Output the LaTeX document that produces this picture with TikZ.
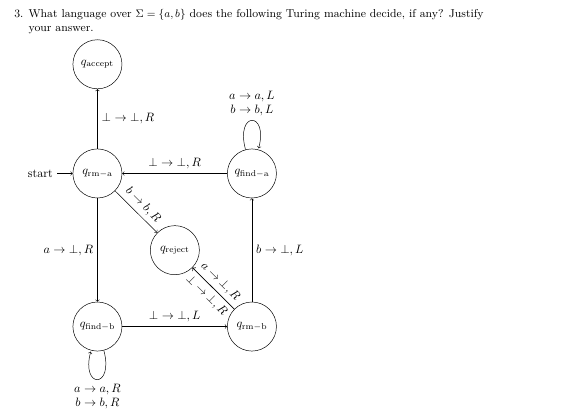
\documentclass[tikz,border=0pt]{standalone}
\usepackage{amsmath, amssymb}
\usetikzlibrary{arrows.meta}

\begin{document}
\begin{tikzpicture}[>=to]
\tikzset{tmstate/.style={circle,draw,minimum size=1.42cm,inner sep=0pt}}
\useasboundingbox (-2.82,-6.96) rectangle (13.56,5.02);
\node[anchor=base west] (task) at (-2.53,4.50) {\fontsize{9.4pt}{11.1pt}\selectfont\begin{tabular}[t]{@{}l@{ }l@{}}3. & What language over $\Sigma = \{a,b\}$ does the following Turing machine decide, if any? Justify\\ & your answer.\end{tabular}};

\begin{scope}
    \node[tmstate] (rma) at (0,0) {$q_{\mathrm{rm-a}}$};
    \node[tmstate] (acc) at (0,3.16) {$q_{\mathrm{accept}}$};
    \node[tmstate] (fa) at (4.47,0) {$q_{\mathrm{find-a}}$};
    \node[tmstate] (rej) at (2.24,-2.22) {$q_{\mathrm{reject}}$};
    \node[tmstate] (fb) at (0,-4.43) {$q_{\mathrm{find-b}}$};
    \node[tmstate] (rmb) at (4.47,-4.43) {$q_{\mathrm{rm-b}}$};
    \node (start) at (-1.65,0) {start};
    \path [->] (start) edge (rma);
    \path [->] (rma) edge node[right] {$\bot \rightarrow \bot, R$} (acc);
    \path [->] (fa) edge node[above] {$\bot \rightarrow \bot, R$} (rma);
    \path [->] (fa) edge[loop above] node[above, align=center] {$a \rightarrow a, L$\\ $b \rightarrow b, L$} (fa);
    \path [->] (rma) edge node[left] {$a \rightarrow \bot, R$} (fb);
    \path [->] (rma) edge node[above, sloped] {$b \rightarrow b, R$} (rej);
    \path [->, semithick] (rmb) edge node[above, sloped] {$a \rightarrow \bot, R$} node[below, sloped] {$\bot \rightarrow \bot, R$} (rej);
    \path [->] (fb) edge node[above] {$\bot \rightarrow \bot, L$} (rmb);
    \path [->] (fb) edge[loop below] node[below, align=center] {$a \rightarrow a, R$\\ $b \rightarrow b, R$} (fb);
    \path [->] (rmb) edge node[right] {$b \rightarrow \bot, L$} (fa);
\end{scope}
\end{tikzpicture}
\end{document}
